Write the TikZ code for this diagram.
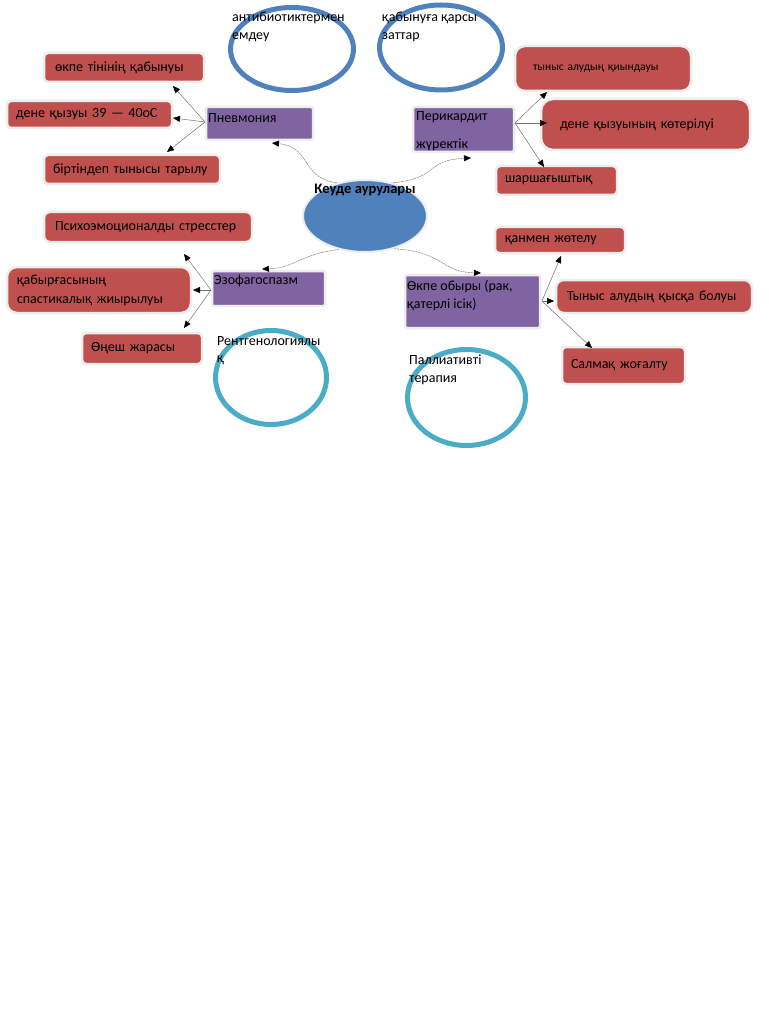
\documentclass[tikz,border=0pt]{standalone}
\usepackage{fontspec}
\setmainfont{Carlito}
\usetikzlibrary{arrows.meta,shapes.geometric}
\definecolor{redc}{HTML}{C0504D}
\definecolor{purc}{HTML}{8064A2}
\definecolor{bluec}{HTML}{4F81BD}
\definecolor{lbluec}{HTML}{4BACC6}
\definecolor{glowc}{HTML}{EDEDED}
\tikzset{
  redbox/.style={fill=redc, draw=glowc, line width=2.5pt, rounded corners=4pt, align=left, font=\fontsize{14}{17}\selectfont, text=black},
  purbox/.style={fill=purc, draw=glowc, line width=2.5pt, rounded corners=2pt, inner sep=0pt},
  txt/.style={font=\fontsize{14}{17}\selectfont, inner sep=0pt, text=black, align=left},
  ring/.style={line width=5pt},
  arr/.style={draw=black!55, line width=0.5pt, -{Triangle[length=7pt,width=6pt,color=black]}},
  carr/.style={draw=black!50, line width=0.5pt, dash pattern=on 2pt off 0.7pt, -{Triangle[length=7pt,width=6pt,color=black]}}
}
\begin{document}
\begin{tikzpicture}[x=1pt,y=-1pt]
\useasboundingbox (0,0) rectangle (768,1024);
\fill[white] (0,0) rectangle (768,1024);

% rings
\draw[ring, draw=bluec] (292,49) ellipse [x radius=61.5pt, y radius=41.5pt];
\draw[ring, draw=bluec] (441,47.5) ellipse [x radius=61.5pt, y radius=42.5pt];
\draw[ring, draw=lbluec] (271,377.5) ellipse [x radius=55.5pt, y radius=47pt];
\draw[ring, draw=lbluec] (466.5,397.5) ellipse [x radius=59pt, y radius=48pt];
\node[txt, anchor=west] (t1) at (232,18) {антибиотиктермен};
\node[txt, anchor=west] (t2) at (232,37) {емдеу};
\node[txt, anchor=west] (t3) at (382,18) {қабынуға қарсы};
\node[txt, anchor=west] (t4) at (382,37) {заттар};
\node[txt, anchor=west] (t5) at (217,341) {Рентгенологиялы};
\node[txt, anchor=west] (t6) at (217,360) {қ};
\node[txt, anchor=west] (t7) at (409,360) {Паллиативті};
\node[txt, anchor=west] (t8) at (409,380) {терапия};

% central
\node[ellipse, fill=bluec, draw=glowc, line width=2pt, minimum width=124pt, minimum height=72pt, inner sep=0pt] (ce) at (365,216) {};
\node[txt, font=\fontsize{14.5}{17}\selectfont\bfseries] (cet) at (365,190) {Кеуде аурулары};

% purple boxes
\node[purbox, minimum width=107pt, minimum height=33pt] (p1) at (259.5,123.5) {};
\node[txt, anchor=west] (p1t) at (208,118) {Пневмония};
\node[purbox, minimum width=101pt, minimum height=45pt] (p2) at (463.5,129.5) {};
\node[txt, anchor=west] (p2a) at (416,117) {Перикардит};
\node[txt, anchor=west] (p2b) at (416,145) {жүректік};
\node[purbox, minimum width=113pt, minimum height=35pt] (p3) at (268.5,288.5) {};
\node[txt, anchor=west] (p3t) at (214,281) {Эзофагоспазм};
\node[purbox, minimum width=135pt, minimum height=53pt] (p4) at (472.5,301.5) {};
\node[txt, anchor=west] (p4a) at (407,287) {Өкпе обыры (рак,};
\node[txt, anchor=west] (p4b) at (407,305) {қатерлі ісік)};

% red boxes
\node[redbox, inner xsep=11pt, text width=138pt, minimum height=29pt] (r1) at (124,67.5) {өкпе тінінің қабынуы};
\node[redbox, inner xsep=9pt, text width=147pt, minimum height=27pt] (r2) at (89.5,114.5) {дене қызуы 39 — 40оС};
\node[redbox, inner xsep=9pt, text width=158pt, minimum height=29pt] (r3) at (132,169.5) {біртіндеп тынысы тарылу};
\node[redbox, inner xsep=11pt, text width=186pt, minimum height=30pt, rounded corners=6pt] (r4) at (148,227) {Психоэмоционалды стресстер};
\node[redbox, inner xsep=10pt, text width=164pt, minimum height=46pt, rounded corners=10pt, font=\fontsize{14}{19}\selectfont] (r5) at (99,290) {қабырғасының\\спастикалық жиырылуы};
\node[redbox, inner xsep=9pt, text width=102pt, minimum height=31pt] (r6) at (142,348.5) {Өңеш жарасы};
\node[redbox, inner xsep=18pt, text width=140pt, minimum height=45pt, rounded corners=10pt, font=\fontsize{11.5}{14}\selectfont] (r7) at (603,68.5) {тыныс алудың қиындауы\\[4pt]};
\node[redbox, inner xsep=19pt, text width=171pt, minimum height=51pt, rounded corners=12pt] (r8) at (645.5,124.5) {дене қызуының көтерілуі\\[3pt]};
\node[redbox, inner xsep=9pt, text width=103pt, minimum height=29pt] (r9) at (556.5,180.5) {шаршағыштық};
\node[redbox, inner xsep=10pt, text width=110pt, minimum height=26pt] (r10) at (560,240) {қанмен жөтелу};
\node[redbox, inner xsep=11pt, text width=174pt, minimum height=33pt, rounded corners=8pt] (r11) at (654,296.5) {Тыныс алудың қысқа болуы};
\node[redbox, inner xsep=9pt, text width=105pt, minimum height=37pt] (r12) at (623.5,365.5) {Салмақ жоғалту};

% arrow tips
\coordinate (a1) at (173,86);
\coordinate (a2) at (173,118);
\coordinate (a3) at (167,152);
\coordinate (b1) at (547,92);
\coordinate (b2) at (547,123);
\coordinate (b3) at (544,167);
\coordinate (d1) at (184,254);
\coordinate (d2) at (193,290);
\coordinate (d3) at (184,328);
\coordinate (f1) at (561,256);
\coordinate (f2) at (554,301);
\coordinate (f3) at (592,348);
\coordinate (s1) at (205,122);
\coordinate (s2) at (515,123);
\coordinate (s3) at (211,290);
\coordinate (s4) at (542,301);

\draw[arr] (s1) -- (a1);
\draw[arr] (s1) -- (a2);
\draw[arr] (s1) -- (a3);
\draw[arr] (s2) -- (b1);
\draw[arr] (s2) -- (b2);
\draw[arr] (s2) -- (b3);
\draw[arr] (s3) -- (d1);
\draw[arr] (s3) -- (d2);
\draw[arr] (s3) -- (d3);
\draw[arr] (s4) -- (f1);
\draw[arr] (s4) -- (f2);
\draw[arr] (s4) -- (f3);

% curved connectors
\coordinate (c1) at (272,143);
\coordinate (c2) at (471,158);
\coordinate (c3) at (262,269);
\coordinate (c4) at (481,273);
\draw[carr] (ce.130) .. controls (300,178) and (312,147) .. (c1);
\draw[carr] (ce.50) .. controls (440,178) and (425,160) .. (c2);
\draw[carr] (ce.232) .. controls (300,254) and (295,268) .. (c3);
\draw[carr] (ce.312) .. controls (445,252) and (440,272) .. (c4);
\end{tikzpicture}
\end{document}
